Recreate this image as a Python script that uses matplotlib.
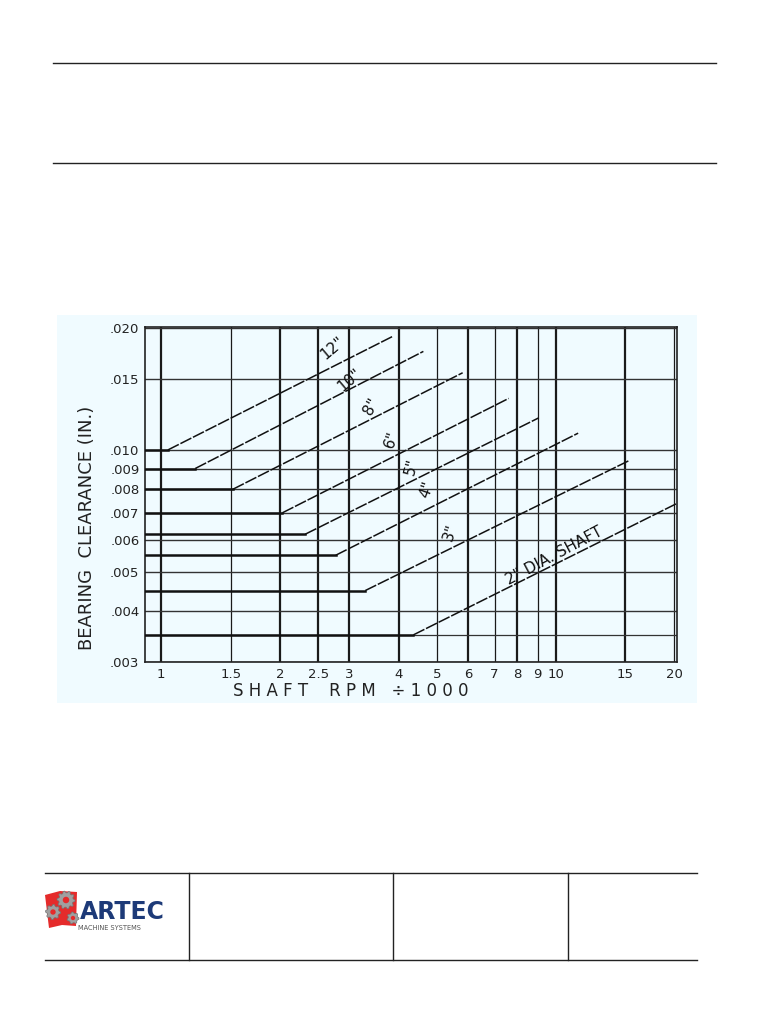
import numpy as np
import matplotlib
matplotlib.use("Agg")
from matplotlib import pyplot as plt
from matplotlib.patches import Rectangle, Polygon, Circle

# shaft diameters and their curves: flat level, knee rpm, end point (rpm/1000, clearance)
diameters = ['12"', '10"', '8"', '6"', '5"', '4"', '3"', '2"']
levels = [0.0100, 0.0090, 0.0080, 0.0070, 0.0062, 0.0055, 0.0045, 0.0035]
knee_rpm = [1.04, 1.22, 1.52, 2.03, 2.32, 2.77, 3.29, 4.36]
end_rpm = [3.88, 4.62, 5.81, 7.60, 9.06, 11.4, 15.3, 20.4]
end_clear = [0.0191, 0.0175, 0.0155, 0.0134, 0.0120, 0.0110, 0.0094, 0.0074]

# label spots for the diameters
label_x = [2.72, 3.0, 3.40, 3.84, 4.32, 4.72, 5.40, 9.9]
label_y = [0.0178, 0.0149, 0.0128, 0.0106, 0.0091, 0.0080, 0.00625, 0.00548]
label_rot = [40, 40, 60, 70, 75, 70, 70, 28]
label_txt = ['12"', '10"', '8"', '6"', '5"', '4"', '3"', '2" DIA. SHAFT']

x_ticks = [1, 1.5, 2, 2.5, 3, 4, 5, 6, 7, 8, 9, 10, 15, 20]
x_tick_labels = ["1", "1.5", "2", "2.5", "3", "4", "5", "6", "7", "8", "9", "10", "15", "20"]
y_ticks = [0.003, 0.004, 0.005, 0.006, 0.007, 0.008, 0.009, 0.010, 0.015, 0.020]
y_tick_labels = [".003", ".004", ".005", ".006", ".007", ".008", ".009", ".010", ".015", ".020"]
thick_x = [1, 2, 2.5, 3, 4, 6, 8, 10, 15]

W, H = 768, 1024
fig = plt.figure(figsize=(W / 100, H / 100), dpi=100)
fig.patch.set_facecolor("white")

# page frame: two rules at the top and the chart picture's background
bg = fig.add_axes([0, 0, 1, 1], zorder=0)
bg.set_xlim(0, W)
bg.set_ylim(H, 0)
bg.axis("off")
bg.plot([53, 716], [63, 63], color="#222222", lw=1)
bg.plot([53, 716], [163, 163], color="#222222", lw=1)
bg.add_patch(Rectangle((57, 315), 640, 388, facecolor="#f0fbff", edgecolor="none"))

# footer table
bg.plot([45, 697], [873, 873], color="#222222", lw=1)
bg.plot([45, 697], [960, 960], color="#222222", lw=1)
for xv in [189, 393, 568]:
    bg.plot([xv, xv], [873, 960], color="#222222", lw=1)

# logo: red shield with three grey gears
bg.add_patch(Polygon([[45, 895], [60, 891], [77, 892], [76, 926], [62, 925], [49, 928]],
                     closed=True, facecolor="#e52b2b", edgecolor="none"))


def gear(cx, cy, r, teeth):
    ang = np.linspace(0, 2 * np.pi, teeth * 4, endpoint=False)
    rr = np.where((np.arange(teeth * 4) // 2) % 2 == 0, r, r * 0.8)
    pts = np.column_stack([cx + rr * np.cos(ang), cy + rr * np.sin(ang)])
    bg.add_patch(Polygon(pts, closed=True, facecolor="#a0a0a0", edgecolor="#747474", lw=0.5))
    bg.add_patch(Circle((cx, cy), r * 0.36, facecolor="#e52b2b", edgecolor="none"))


gear(66, 900, 9, 10)
gear(53, 912, 7.5, 8)
gear(73, 918, 6, 7)
bg.text(80, 919, "ARTEC", fontsize=17, fontweight="bold", color="#1d3a78",
        family=["Liberation Sans Narrow", "DejaVu Sans"], va="baseline", ha="left")
bg.text(78, 928.5, "MACHINE SYSTEMS", fontsize=4.8, color="#555555", va="center", ha="left")

# chart
ax = fig.add_axes([145 / W, 1 - 662 / H, (677 - 145) / W, (662 - 327) / H], zorder=1)
ax.set_facecolor("none")
ax.set_xscale("log")
ax.set_yscale("log")
ax.set_xlim(0.91, 20.3)
ax.set_ylim(0.003, 0.0201)

for xv in x_ticks:
    ax.axvline(xv, color="#1a1a1a", lw=1.6 if xv in thick_x else 0.9, zorder=1)
for yv in y_ticks:
    ax.axhline(yv, color="#333333", lw=1.0, zorder=1)
ax.axhline(0.0035, color="#333333", lw=0.9, zorder=1)

for i in range(len(diameters)):
    ax.plot([0.91, knee_rpm[i]], [levels[i], levels[i]], color="#111111", lw=1.8, zorder=3)
    ax.plot([knee_rpm[i], end_rpm[i]], [levels[i], end_clear[i]], color="#111111",
            lw=1.1, dashes=(8, 1.2), zorder=3)
    ax.text(label_x[i], label_y[i], label_txt[i], rotation=label_rot[i], fontsize=11,
            ha="center", va="center", color="#111111", zorder=4)

ax.xaxis.set_major_locator(matplotlib.ticker.FixedLocator(x_ticks))
ax.xaxis.set_minor_locator(matplotlib.ticker.NullLocator())
ax.yaxis.set_major_locator(matplotlib.ticker.FixedLocator(y_ticks))
ax.yaxis.set_minor_locator(matplotlib.ticker.NullLocator())
ax.set_xticklabels(x_tick_labels, fontsize=9.5, color="#222222")
ax.set_yticklabels(y_tick_labels, fontsize=9.5, color="#222222")
ax.tick_params(length=0, pad=4)
for s in ax.spines.values():
    s.set_color("#222222")
    s.set_linewidth(1.2)

ax.set_ylabel("BEARING  CLEARANCE (IN.)", fontsize=13, color="#222222")
ax.yaxis.set_label_coords(-0.092, 0.40)
ax.set_xlabel("S H A F T    R P M   \u00f7 1 0 0 0", fontsize=12, color="#222222")
ax.xaxis.set_label_coords(0.387, -0.06)

fig.savefig("out.png", dpi=100, facecolor="white")
